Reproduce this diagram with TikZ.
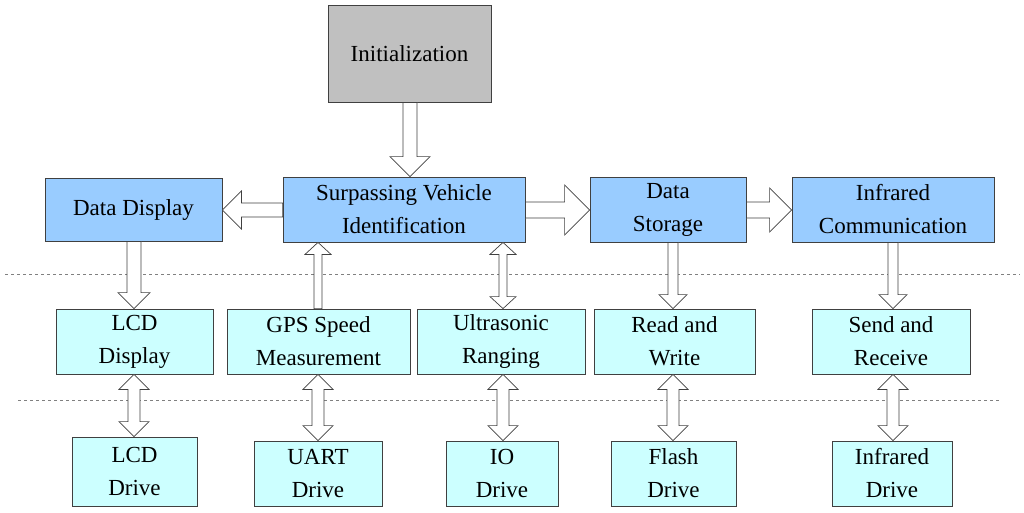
\documentclass[tikz,border=0pt]{standalone}
\usepackage{fontspec}
\setmainfont{Liberation Serif}
\usetikzlibrary{calc}
\definecolor{bblue}{HTML}{99CCFF}
\definecolor{bcyan}{HTML}{CCFFFF}
\definecolor{bgray}{HTML}{C0C0C0}
\definecolor{edge}{HTML}{404040}
\tikzset{
  box/.style={draw=edge, line width=0.8pt, align=center, inner sep=0pt,
    font=\fontsize{23}{33}\selectfont},
  top/.style={box, fill=bblue},
  low/.style={box, fill=bcyan},
  ini/.style={box, fill=bgray},
  barrow/.style={draw=edge, fill=white, line width=0.7pt, line join=miter},
  sep/.style={draw=gray, dashed, line width=0.6pt}
}
% name, x1,y1,x2,y2, style, text
\newcommand\bx[7]{\node[#6, minimum width={(#4-#2)*1pt}, minimum height={(#5-#3)*1pt}]
  (#1) at ({(#2+#4)/2},{(#3+#5)/2}) {#7};}
% single arrow: start, end, halfshaft, halfhead, headlen
\newcommand\sarrow[5]{\draw[barrow] let \p1=(#1), \p2=(#2),
  \n1={veclen(\x2-\x1,\y2-\y1)}, \n2={atan2(\y2-\y1,\x2-\x1)} in
  [shift={(\p1)}, rotate=\n2]
  (0,#3) -- ({\n1-#5},#3) -- ({\n1-#5},#4) -- (\n1,0) -- ({\n1-#5},-#4)
  -- ({\n1-#5},-#3) -- (0,-#3) -- cycle;}
\newcommand\darrow[5]{\draw[barrow] let \p1=(#1), \p2=(#2),
  \n1={veclen(\x2-\x1,\y2-\y1)}, \n2={atan2(\y2-\y1,\x2-\x1)} in
  [shift={(\p1)}, rotate=\n2]
  (#5,#3) -- ({\n1-#5},#3) -- ({\n1-#5},#4) -- (\n1,0) -- ({\n1-#5},-#4)
  -- ({\n1-#5},-#3) -- (#5,-#3) -- (#5,-#4) -- (0,0) -- (#5,#4) -- cycle;}
\begin{document}
\begin{tikzpicture}[x=1pt,y=-1pt]
\useasboundingbox (0,0) rectangle (1024,512);
\draw[sep] (5,274) -- (1020,274);
\draw[sep] (18,400) -- (1000,400);
\bx{ini}{328}{5}{491}{102}{ini}{Initialization}
\bx{dd}{45}{178}{222}{241}{top}{Data Display}
\bx{svi}{283}{177}{525}{242}{top}{Surpassing Vehicle\\Identification}
\bx{ds}{590}{177}{746}{242}{top}{Data\\Storage}
\bx{ic}{792}{177}{994}{242}{top}{Infrared\\Communication}
\bx{lcd}{56}{309}{213}{374}{low}{LCD\\Display}
\bx{gps}{227}{309}{410}{374}{low}{GPS Speed\\Measurement}
\bx{us}{417}{309}{585}{374}{low}{Ultrasonic\\Ranging}
\bx{rw}{594}{309}{755}{374}{low}{Read and\\Write}
\bx{sr}{812}{309}{970}{374}{low}{Send and\\Receive}
\bx{lcdd}{72}{437}{197}{506}{low}{LCD\\Drive}
\bx{uart}{254}{441}{382}{506}{low}{UART\\Drive}
\bx{io}{446}{441}{558}{506}{low}{IO\\Drive}
\bx{fl}{611}{441}{736}{506}{low}{Flash\\Drive}
\bx{ir}{832}{441}{952}{506}{low}{Infrared\\Drive}
\coordinate (xa) at (134,0);
\coordinate (xb) at (318,0);
\coordinate (xc) at (503,0);
\coordinate (xd) at (673,0);
\coordinate (xe) at (893,0);
\coordinate (xi) at (410,0);
\coordinate (yh) at (0,210);
\sarrow{ini.south -| xi}{svi.north -| xi}{7}{20}{20}
\sarrow{svi.west |- yh}{dd.east |- yh}{7}{19}{19}
\sarrow{svi.east |- yh}{ds.west |- yh}{8}{25}{25}
\sarrow{ds.east |- yh}{ic.west |- yh}{8}{22}{22}
\sarrow{dd.south -| xa}{lcd.north -| xa}{7}{16}{16}
\sarrow{gps.north -| xb}{svi.south -| xb}{4}{13}{12}
\darrow{svi.south -| xc}{us.north -| xc}{4}{13}{12}
\sarrow{ds.south -| xd}{rw.north -| xd}{5}{14}{14}
\sarrow{ic.south -| xe}{sr.north -| xe}{5}{14}{14}
\darrow{lcd.south -| xa}{lcdd.north -| xa}{6}{15}{15}
\darrow{gps.south -| xb}{uart.north -| xb}{6}{15}{15}
\darrow{us.south -| xc}{io.north -| xc}{6}{15}{15}
\darrow{rw.south -| xd}{fl.north -| xd}{6}{15}{15}
\darrow{sr.south -| xe}{ir.north -| xe}{6}{15}{15}
\end{tikzpicture}
\end{document}
